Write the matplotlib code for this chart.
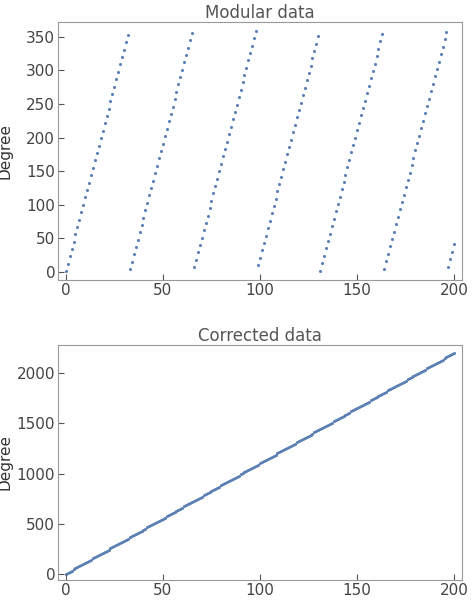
import matplotlib
matplotlib.use("Agg")
import matplotlib.pyplot as plt

samples = list(range(0, 201))
corrected_degree = [
1,12,23,34,45,56,67,78,89,100,
111,122,133,144,155,166,177,188,199,210,
221,232,243,254,265,276,287,298,309,320,
331,342,353,364,375,386,397,408,419,430,
441,452,463,474,485,496,507,518,529,540,
551,562,573,584,595,606,617,628,639,650,
661,672,683,694,705,716,727,738,749,760,
771,782,793,804,815,826,837,848,859,870,
881,892,903,914,925,936,947,958,969,980,
991,1002,1013,1024,1035,1046,1057,1068,1079,1090,
1101,1112,1123,1134,1145,1156,1167,1178,1189,1200,
1211,1222,1233,1244,1255,1266,1277,1288,1299,1310,
1321,1332,1343,1354,1365,1376,1387,1398,1409,1420,
1431,1442,1453,1464,1475,1486,1497,1508,1519,1530,
1541,1552,1563,1574,1585,1596,1607,1618,1629,1640,
1651,1662,1673,1684,1695,1706,1717,1728,1739,1750,
1761,1772,1783,1794,1805,1816,1827,1838,1849,1860,
1871,1882,1893,1904,1915,1926,1937,1948,1959,1970,
1981,1992,2003,2014,2025,2036,2047,2058,2069,2080,
2091,2102,2113,2124,2135,2146,2157,2168,2179,2190,
2201]
modular_degree = [d % 360 for d in corrected_degree]

col = "#5e81b5"
grey = "#555555"
fig = plt.figure(figsize=(4.74, 6.06), dpi=100)
ax1 = fig.add_axes([58/474, 1-280/606, 404/474, 258/606])
ax2 = fig.add_axes([58/474, 1-580/606, 404/474, 235/606])

def style(ax, title):
    ax.set_title(title, color=grey, fontsize=12, pad=3)
    ax.set_ylabel("Degree", color="#333333", fontsize=11)
    ax.yaxis.set_label_coords(-45/404, 0.5)
    for s in ax.spines.values():
        s.set_color("#999999")
    ax.tick_params(colors=grey, labelsize=11, direction="in", length=4, pad=2)
    for lab in ax.get_xticklabels() + ax.get_yticklabels():
        lab.set_color("#444444")
    ax.set_xlim(-4, 204)
    ax.set_xticks([0, 50, 100, 150, 200])

ax1.scatter(samples, modular_degree, s=5, color=col, linewidths=0)
ax1.set_ylim(-12, 372)
ax1.set_yticks(range(0, 351, 50))
style(ax1, "Modular data")

ax2.scatter(samples, corrected_degree, s=5, color=col, linewidths=0)
ax2.set_ylim(-60, 2280)
ax2.set_yticks(range(0, 2001, 500))
style(ax2, "Corrected data")

fig.savefig("out.png", dpi=100)
